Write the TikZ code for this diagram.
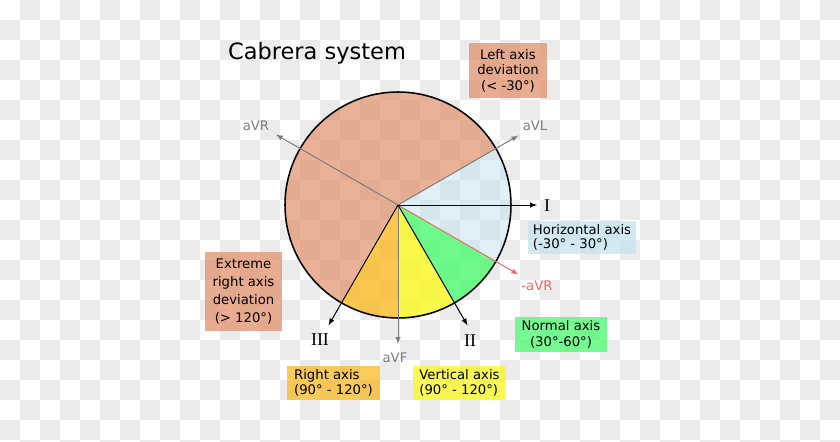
\documentclass[tikz,border=0pt]{standalone}
\usepackage{fontspec}
\setmainfont{DejaVu Sans}
\newfontfamily\leadfont{Liberation Serif}
\usetikzlibrary{%
  arrows
}
\tikzset{>=latex}

\definecolor{checkgray}{RGB}{235,235,235}
\definecolor{salmonzone}{RGB}{225,145,108}
\definecolor{bluezone}{RGB}{197,227,239}
\definecolor{greenzone}{RGB}{74,251,111}
\definecolor{yellowzone}{RGB}{251,249,30}
\definecolor{orangezone}{RGB}{249,186,36}
\definecolor{leadgray}{RGB}{125,125,125}
\definecolor{leadred}{RGB}{236,105,105}

\tikzset{
  boxtext/.style={font=\fontsize{9.4}{11}\selectfont},
  zonebox/.style={boxtext, fill=#1, fill opacity=0.75, text opacity=1,
    inner sep=0pt},
  lead/.style={->, line width=0.7pt},
  leadname/.style={font=\fontsize{9.4}{11}\selectfont, inner sep=0pt},
  roman/.style={font=\fontsize{12.8}{14}\leadfont, inner sep=0pt}
}

\begin{document}
\begin{tikzpicture}[x=0.025cm, y=0.025cm]

  \useasboundingbox (-398,-236) rectangle (442,205);

  % checkered background
  \begin{scope}
    \clip (-398,-236) rectangle (442,205);
    \fill[white] (-398,-236) rectangle (442,205);
    \foreach \j in {0,...,22}{
      \pgfmathtruncatemacro\first{mod(\j+1,2)}
      \pgfmathtruncatemacro\second{\first+2}
      \foreach \i in {\first,\second,...,41}
        \fill[checkgray] ({20*\i-398},{205-20*\j}) rectangle ++(20,-20);
    }
  \end{scope}

  \coordinate (O) at (0,0);

  % axis zones
  \fill[salmonzone, fill opacity=0.7] (O) -- (30:113)
    arc[start angle=30, end angle=240, radius=113] -- cycle;
  \fill[orangezone, fill opacity=0.8] (O) -- (240:113)
    arc[start angle=240, end angle=270, radius=113] -- cycle;
  \fill[yellowzone, fill opacity=0.8] (O) -- (270:113)
    arc[start angle=270, end angle=300, radius=113] -- cycle;
  \fill[greenzone, fill opacity=0.8] (O) -- (300:113)
    arc[start angle=300, end angle=330, radius=113] -- cycle;
  \fill[bluezone, fill opacity=0.5] (O) -- (330:113)
    arc[start angle=-30, end angle=30, radius=113] -- cycle;

  \draw[line width=1.1pt] (O) circle[radius=113];

  % leads
  \coordinate (I) at (0:139);
  \coordinate (II) at (-60:139);
  \coordinate (III) at (-120:139);
  \coordinate (aVR) at (150:141);
  \coordinate (aVL) at (30:139);
  \coordinate (aVF) at (-90:139);
  \coordinate (maVR) at (-30:139);

  \draw[lead, leadgray] (O) -- (aVR);
  \draw[lead, leadgray] (O) -- (aVL);
  \draw[lead, leadgray] (O) -- (aVF);
  \draw[lead, leadred] (O) -- (maVR);
  \draw[lead] (O) -- (I);
  \draw[lead] (O) -- (II);
  \draw[lead] (O) -- (III);

  \node[roman] (Iname) at (149,-1) {I};
  \node[roman] (IIname) at (72,-136) {II};
  \node[roman] (IIIname) at (-78,-135) {III};
  \node[leadname, text=leadgray] (aVRname) at (-142,79) {aVR};
  \node[leadname, text=leadgray] (aVLname) at (137,79) {aVL};
  \node[leadname, text=leadgray] (aVFname) at (-3,-153) {aVF};
  \node[leadname, text=leadred] (maVRname) at (139,-81) {-aVR};

  % title and zone boxes
  \node[font=\fontsize{16}{19}\selectfont, anchor=base] (title)
    at (-81,145.7) {Cabrera system};

  \node[zonebox=salmonzone, minimum width=1.95cm, minimum height=1.375cm,
    align=center] (left) at (110,134.5)
    {Left axis\\deviation\\(< -30°)};
  \node[zonebox=bluezone, minimum width=2.7cm, minimum height=0.825cm,
    align=left, font=\fontsize{9.4}{10}\selectfont] (horizontal) at (184,-32.5)
    {Horizontal axis\\(-30° - 30°)};
  \node[zonebox=greenzone, minimum width=2.3cm, minimum height=0.875cm,
    align=center] (normal) at (163,-129.5)
    {Normal axis\\(30°-60°)};
  \node[zonebox=yellowzone, minimum width=2.325cm, minimum height=0.85cm,
    align=left] (vertical) at (61.5,-178)
    {Vertical axis\\(90° - 120°)};
  \node[zonebox=orangezone, minimum width=2.325cm, minimum height=0.85cm,
    align=left] (right) at (-64.5,-178)
    {Right axis\\(90° - 120°)};
  \node[zonebox=salmonzone, minimum width=1.925cm, minimum height=1.975cm,
    align=center, font=\fontsize{9.4}{13}\selectfont] (extreme) at (-154.5,-86.5)
    {Extreme\\right axis\\deviation\\(> 120°)};

\end{tikzpicture}
\end{document}
